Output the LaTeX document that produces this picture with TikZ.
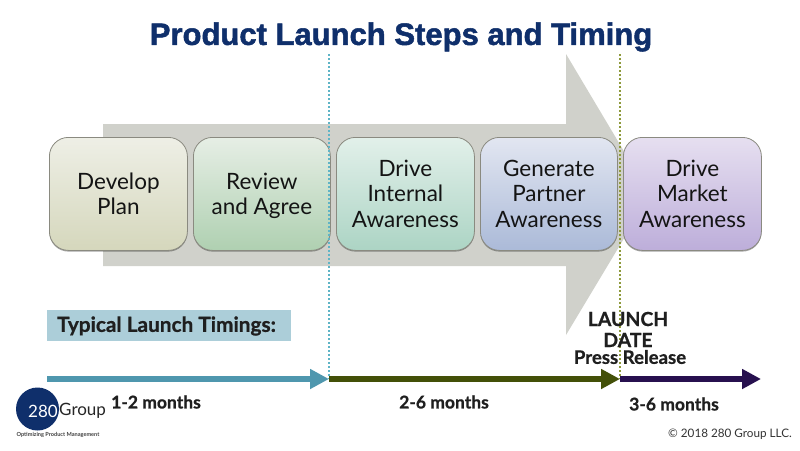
\documentclass[tikz,border=0pt]{standalone}
\usepackage{fontspec}
\setmainfont{Lato}
\newfontfamily\titlefont[FakeBold=1.6]{Liberation Sans Bold}
\newfontfamily\heavy[FakeBold=0.8]{Lato Bold}
\usetikzlibrary{arrows.meta,shadows}
\newcommand\stagelines[1]{\raisebox{-8pt}[0pt][0pt]{\begin{tabular}{@{}c@{}}#1\end{tabular}}}
\definecolor{bigarrow}{HTML}{D0D1CB}
\definecolor{navy}{HTML}{0F2F6B}
\definecolor{teal}{HTML}{4F97AE}
\definecolor{olive}{HTML}{435008}
\definecolor{plum}{HTML}{27104F}
\definecolor{edgegray}{HTML}{8A8A80}
\definecolor{guideteal}{HTML}{5FB4C6}
\definecolor{guideolive}{HTML}{8E9A3C}
\definecolor{aT}{HTML}{EEEFE6}\definecolor{aB}{HTML}{D5D7BC}
\definecolor{bT}{HTML}{E6EEE5}\definecolor{bB}{HTML}{AFD0B1}
\definecolor{cT}{HTML}{E2F0EA}\definecolor{cB}{HTML}{ACD4C4}
\definecolor{dT}{HTML}{E2E6F1}\definecolor{dB}{HTML}{ABBAD8}
\definecolor{eT}{HTML}{E6DFF0}\definecolor{eB}{HTML}{BDAEDA}
\tikzset{
  x=1pt,y=-1pt,
  stage/.style={draw=edgegray,line width=.8pt,rounded corners=19pt,minimum width=138pt,minimum height=113pt,
    font=\fontsize{22.5}{25.5}\selectfont,text=black!92,inner sep=0pt,anchor=north west,
    drop shadow={shadow xshift=0pt,shadow yshift=-1.2pt,opacity=.35,fill=black}},
  span/.style={line width=6pt,-{Triangle[length=19pt,width=19pt]}},
  guide/.style={line width=1.1pt,dash pattern=on 2pt off 2pt},
  timing/.style={font=\heavy\fontsize{17.5}{20}\selectfont,text=black!88,inner sep=0pt},
  launch/.style={font=\heavy\fontsize{19.4}{21}\selectfont,text=black!88,inner sep=0pt,align=center},
}
\begin{document}
\begin{tikzpicture}
\useasboundingbox (0,0) rectangle (800,450);
\fill[white] (0,0) rectangle (800,450);
\node[font=\titlefont\fontsize{31}{34}\selectfont,text=navy,inner sep=0pt] (title) at (401,37) {Product Launch Steps and Timing};
\fill[bigarrow] (103,124) -- (566,124) -- (566,54) -- (650,195) -- (566,335) -- (566,266) -- (103,266) -- cycle;
\node[stage,top color=aT,bottom color=aB] (s1) at (49,137) {\stagelines{Develop\\Plan}};
\node[stage,top color=bT,bottom color=bB,minimum width=137pt] (s2) at (193,137) {\stagelines{Review\\and Agree}};
\node[stage,top color=cT,bottom color=cB] (s3) at (336,137) {\stagelines{Drive\\Internal\\Awareness}};
\node[stage,top color=dT,bottom color=dB,minimum width=137pt] (s4) at (480,137) {\stagelines{Generate\\Partner\\Awareness}};
\node[stage,top color=eT,bottom color=eB] (s5) at (623,137) {\stagelines{Drive\\Market\\Awareness}};
\coordinate (a0) at (47,379);
\coordinate (a1) at (329,379);
\coordinate (a2) at (620,379);
\coordinate (a3) at (761,379);
\coordinate (g1) at (329,54);
\coordinate (g2) at (620,54);
\draw[guide,guideteal] (g1) -- (a1);
\draw[guide,guideolive] (g2) -- (a2);
\node[fill=teal!47!white,minimum width=244pt,minimum height=31pt,inner sep=0pt,anchor=north west] (tbox) at (47,310) {};
\node[font=\heavy\fontsize{20.8}{22}\selectfont,text=black!88,inner sep=0pt] (tlabel) at (166.5,326) {Typical Launch Timings:};
\draw[span,teal] (a0) -- (a1);
\draw[span,olive] (a1) -- (a2);
\draw[span,plum] (a2) -- (a3);
\node[launch] (ld) at (628,319) {LAUNCH};
\node[launch] (dd) at (628,340) {DATE};
\node[launch,font=\heavy\fontsize{18.6}{21}\selectfont] (pr) at (630,357) {Press Release};
\node[timing] (t1) at (156,402) {1-2 months};
\node[timing] (t2) at (444,402) {2-6 months};
\node[timing] (t3) at (674,404) {3-6 months};
\node[circle,fill=navy,minimum size=43pt,inner sep=0pt] (logo) at (37.5,409) {};
\node[font=\fontsize{17}{20}\selectfont,text=white,inner sep=0pt,anchor=east] (l280) at (58,411) {280};
\node[font=\fontsize{17}{20}\selectfont,text=black!85,inner sep=0pt,anchor=west] (lgroup) at (59,411) {Group};
\node[font=\bfseries\fontsize{5.6}{6}\selectfont,text=black!75,inner sep=0pt] (ltag) at (58,435) {Optimizing Product Management};
\node[font=\fontsize{11.7}{13}\selectfont,text=black!80,inner sep=0pt,anchor=east] (copy) at (792,434) {© 2018 280 Group LLC.};
\end{tikzpicture}
\end{document}
